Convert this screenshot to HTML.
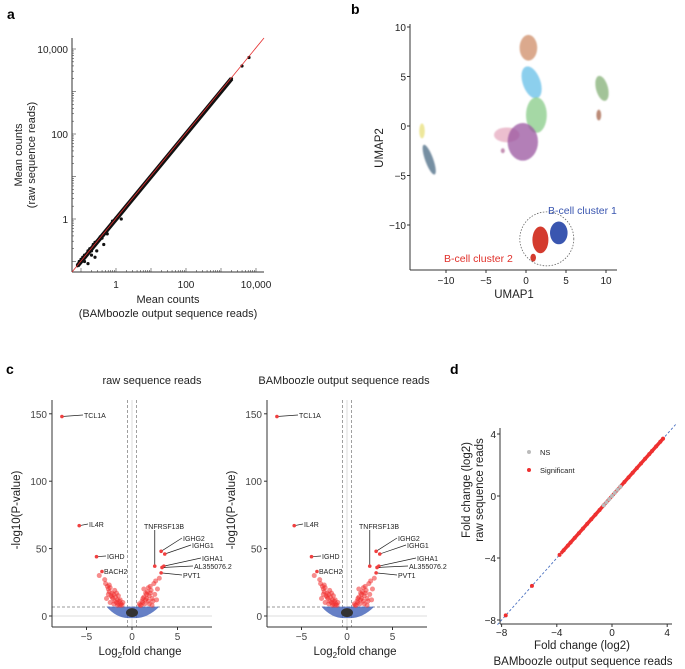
<!DOCTYPE html>
<html><head><meta charset="utf-8"><style>
html,body{margin:0;padding:0;background:#fff}
svg{display:block;font-family:"Liberation Sans",Arial,sans-serif}
</style></head><body>
<svg id="fig" width="685" height="669" viewBox="0 0 685 669" xmlns="http://www.w3.org/2000/svg">
<defs><filter id="blur" x="-50%" y="-50%" width="200%" height="200%"><feGaussianBlur stdDeviation="0.9"/></filter></defs>
<text x="7" y="19" font-size="14" font-weight="bold">a</text>
<text x="351" y="14" font-size="14" font-weight="bold">b</text>
<text x="6" y="374" font-size="14" font-weight="bold">c</text>
<text x="450" y="374" font-size="14" font-weight="bold">d</text>
<g id="pa"></g>
<g id="pb"></g>
<g id="pc1"></g>
<g id="pc2"></g>
<g id="pd"></g>
</svg>
<script>
// ---------- data ----------
const aX=[-1.1,-1.05,-1.0,-0.95,-0.9,-0.85,-0.8,-0.75,-0.7,-0.65,-0.6,-0.5,-0.45,-0.4,-0.3,-0.2,-0.1,0,0.1,0.2,0.35,0.5,0.7,0.9,1.1,1.3,1.5,1.7,1.9,2.1,2.3,2.5,2.7,2.9,3.1,3.2,3.3,3.6,3.8,-0.9,-0.7,-0.55,-0.35,-0.25,0.15,-0.8,-0.6];
const aY=[-1.1,-1.0,-0.95,-0.9,-0.85,-0.85,-0.75,-0.7,-0.75,-0.6,-0.55,-0.5,-0.42,-0.45,-0.3,-0.2,-0.05,0.02,0.1,0.2,0.35,0.5,0.7,0.9,1.1,1.3,1.5,1.7,1.9,2.1,2.3,2.5,2.7,2.9,3.1,3.2,3.3,3.6,3.8,-1.0,-0.85,-0.75,-0.6,-0.35,0.0,-1.05,-0.9];
const aTickVals=[0,2,4];
const aTickLabels=["1","100","10,000"];
const bCX=[0.3,0.7,1.3,-2.4,-0.4,9.5,9.1,-13.0,-12.1,1.8,0.9,4.1,-2.9];
const bCY=[7.9,4.4,1.1,-0.9,-1.6,3.8,1.1,-0.5,-3.4,-11.5,-13.3,-10.8,-2.5];
const bRX=[1.1,1.1,1.3,1.6,1.9,0.75,0.3,0.35,0.5,1.0,0.35,1.1,0.25];
const bRY=[1.3,1.7,1.8,0.75,1.9,1.3,0.55,0.75,1.6,1.35,0.4,1.15,0.25];
const bRot=[0,-20,0,0,0,-15,0,0,-20,0,0,0,0];
const bCol=["#cf8d67","#66bfe8","#88cc88","#e6aac0","#9a55a0","#84b076","#a5634a","#e8e07a","#4a6a84","#d43b2e","#d43b2e","#3a56b0","#b06a9a"];
const bTicks=[-10,-5,0,5,10];
const cGenes=["TCL1A","IL4R","IGHD","BACH2","TNFRSF13B","IGHG2","IGHG1","IGHA1","AL355076.2","PVT1"];
const cGX=[-7.7,-5.8,-3.9,-3.3,2.5,3.2,3.6,3.5,3.3,3.2];
const cGY=[148,67,44,33,37,48,46,37,36,32];
const cLX=[84,89,107,104,144,183,192,202,194,183];
const cLY=[418,527,559,574,529,541,548,561,569,578];
const cRedX=[-3.6,-3.0,-2.9,-2.7,-2.6,-2.5,-2.4,-2.3,-2.2,-2.1,-2.0,-1.9,-1.8,-1.7,-1.6,-1.5,-1.4,-1.3,-1.2,-2.8,-2.4,-2.0,-1.6,-1.3,-2.6,-2.2,-1.9,-1.5,-1.1,-1.0,-2.5,-1.7,1.0,1.2,1.3,1.5,1.6,1.7,1.8,1.9,2.0,2.1,2.2,2.4,2.6,2.8,1.4,1.8,2.2,0.9,1.1,1.6,2.0,2.3,1.9,1.5,1.2,2.5,2.7,3.0,0.8,1.3];
const cRedY=[30,27,24,22,20,18,21,15,17,13,16,11,14,10,12,9,11,8,9,13,10,9,8,12,16,14,19,15,8,10,23,17,8,10,14,12,16,18,21,15,22,19,13,24,26,20,9,11,8,8,11,13,17,11,9,17,13,16,12,28,9,20];
const cTicksX=[-5,0,5];
const cTicksY=[0,50,100,150];
const dX=[-7.7,-5.8,-3.8,-3.5,-3.2,-3.0,-2.7,-2.4,-2.1,-1.8,-1.5,-1.2,-0.9,-0.6,0.6,0.9,1.2,1.5,1.8,2.1,2.4,2.7,2.9,3.2,3.5,3.7];
const dY=[-7.7,-5.8,-3.8,-3.5,-3.2,-3.0,-2.7,-2.4,-2.1,-1.8,-1.5,-1.2,-0.9,-0.6,0.6,0.9,1.2,1.5,1.8,2.1,2.4,2.7,2.9,3.2,3.5,3.7];
const dNSX=[-0.6,-0.4,-0.2,0,0.2,0.4,0.6];
const dTicks=[-8,-4,0,4];

const NS="http://www.w3.org/2000/svg";
function mk(p,t,a){const e=document.createElementNS(NS,t);for(const k in a)e.setAttribute(k,a[k]);p.appendChild(e);return e;}
function txt(p,x,y,s,o){const e=mk(p,'text',Object.assign({x:x,y:y},o||{}));e.textContent=s;return e;}

(function(){
const g=document.getElementById('pa');
const sx=v=>116+v*35, sy=v=>219-v*42.5;
mk(g,'line',{x1:72,y1:38,x2:72,y2:272,stroke:'#333','stroke-width':1});
mk(g,'line',{x1:72,y1:272,x2:264,y2:272,stroke:'#333','stroke-width':1});
for(let d=-1;d<=4;d++)for(let m=1;m<10;m++){const v=d+Math.log10(m);
 const px=sx(v); if(px>=72&&px<=264){mk(g,'line',{x1:px,y1:272,x2:px,y2:m==1?268:270,stroke:'#444','stroke-width':0.6});}
 const py=sy(v); if(py>=38&&py<=272){mk(g,'line',{x1:72,y1:py,x2:m==1?76:74,y2:py,stroke:'#444','stroke-width':0.6});}}
aTickVals.forEach((v,i)=>{
 const t1=txt(g,sx(v),288,aTickLabels[i],{'font-size':10,'text-anchor':'middle',fill:'#222'});
 
 
 const t2=txt(g,68,sy(v)+4,aTickLabels[i],{'font-size':10,'text-anchor':'end',fill:'#222'});
 
 
});
const pl=mk(g,'line',{x1:sx(-1.1),y1:sy(-1.1),x2:sx(3.3),y2:sy(3.3),stroke:'#111','stroke-width':4.5});


aX.forEach((v,i)=>{const c=mk(g,'circle',{cx:sx(v),cy:sy(aY[i]),r:1.6,fill:'#111'});
 
 });
const rl=mk(g,'line',{x1:72,y1:272,x2:264,y2:38,stroke:'#e53030','stroke-width':0.8});


const yt=mk(g,'text',{transform:'translate(22,155) rotate(-90)','font-size':11,'text-anchor':'middle',fill:'#222'});
yt.innerHTML='<tspan x="0" y="0">Mean counts</tspan><tspan x="0" y="13">(raw sequence reads)</tspan>';


const xt=txt(g,168,303,'Mean counts',{'font-size':11,'text-anchor':'middle',fill:'#222'});


const xt2=txt(g,168,317,'(BAMboozle output sequence reads)',{'font-size':11,'text-anchor':'middle',fill:'#222'});


})();

(function(){
const g=document.getElementById('pb');
const sx=v=>526+v*8, sy=v=>126-v*9.9;
mk(g,'line',{x1:410,y1:24,x2:410,y2:270,stroke:'#333','stroke-width':1});
mk(g,'line',{x1:410,y1:270,x2:617,y2:270,stroke:'#333','stroke-width':1});
bTicks.forEach(v=>{
 mk(g,'line',{x1:sx(v),y1:270,x2:sx(v),y2:273,stroke:'#333'});
 const a=txt(g,sx(v),284,v<0?'\u2212'+(-v):String(v),{'font-size':10,'text-anchor':'middle',fill:'#222'});
 
 
 mk(g,'line',{x1:407,y1:sy(v),x2:410,y2:sy(v),stroke:'#333'});
 const b=txt(g,406,sy(v)+4,v<0?'\u2212'+(-v):String(v),{'font-size':10,'text-anchor':'end',fill:'#222'});
 
 
});
bCX.forEach((v,i)=>{const sharp=i>=9&&i<=11;
 const cx=sx(v),cy=sy(bCY[i]);
 const e=mk(g,'ellipse',{cx:cx,cy:cy,rx:bRX[i]*8,ry:bRY[i]*9.9,fill:bCol[i],opacity:sharp?1:0.75,transform:`rotate(${bRot[i]} ${cx} ${cy})`});
 if(!sharp)e.setAttribute('filter','url(#blur)');
 
 });
const c=mk(g,'circle',{cx:sx(2.6),cy:sy(-11.4),r:27,fill:'none',stroke:'#666','stroke-width':0.8,'stroke-dasharray':'1.5,1.5'});


const l1=txt(g,548,214,'B-cell cluster 1',{'font-size':10.5,fill:'#3a56b0'});


const l2=txt(g,444,262,'B-cell cluster 2',{'font-size':10.5,fill:'#e0302a'});


const yt=txt(g,0,0,'UMAP2',{transform:'translate(383,148) rotate(-90)','font-size':11.5,'text-anchor':'middle',fill:'#222'});


const xt=txt(g,514,298,'UMAP1',{'font-size':11.5,'text-anchor':'middle',fill:'#222'});


})();

function volcano(id,ox,title){
const g=document.getElementById(id);
const ax=52+ox, sx=v=>132+ox+v*9.1, sy=v=>616-v*1.348;
mk(g,'line',{x1:ax,y1:sy(0),x2:212+ox,y2:sy(0),stroke:'#ddd','stroke-width':1});
mk(g,'line',{x1:sx(0),y1:400,x2:sx(0),y2:627,stroke:'#ddd','stroke-width':1});
mk(g,'line',{x1:ax,y1:sy(6.7),x2:212+ox,y2:sy(6.7),stroke:'#777','stroke-width':0.7,'stroke-dasharray':'3,2'});
[-0.5,0.5].forEach(v=>mk(g,'line',{x1:sx(v),y1:400,x2:sx(v),y2:627,stroke:'#777','stroke-width':0.7,'stroke-dasharray':'3,2'}));
const blue=mk(g,'path',{d:`M${sx(-2.8)},${sy(7)} L${sx(3)},${sy(7)} Q${sx(1.6)},${sy(-2.5)} ${sx(0)},${sy(-1.5)} Q${sx(-1.6)},${sy(-2.5)} ${sx(-2.8)},${sy(7)} Z`,fill:'#4060b8',opacity:0.8});


const grey=mk(g,'ellipse',{cx:sx(0),cy:sy(2.5),rx:6,ry:4.5,fill:'#333'});


cRedX.forEach((v,i)=>{const c=mk(g,'circle',{cx:sx(v),cy:sy(cRedY[i]),r:2.5,fill:'#f03030',opacity:0.55});
 
 });
cGX.forEach((v,i)=>{
 const px=sx(v),py=sy(cGY[i]),lx=cLX[i]+ox,ly=cLY[i]-3;
 if(i==4) mk(g,'line',{x1:px,y1:py,x2:px,y2:ly+4,stroke:'#222','stroke-width':0.8});
 else mk(g,'line',{x1:px,y1:py,x2:lx-1,y2:ly,stroke:'#222','stroke-width':0.7});
 const c=mk(g,'circle',{cx:px,cy:py,r:1.8,fill:'#f04040'});
 
 
 const t=txt(g,lx,cLY[i],cGenes[i],{'font-size':7,fill:'#222'});
 
 
});
mk(g,'line',{x1:ax,y1:400,x2:ax,y2:627,stroke:'#333','stroke-width':1});
mk(g,'line',{x1:ax,y1:627,x2:212+ox,y2:627,stroke:'#333','stroke-width':1});
cTicksX.forEach(v=>{mk(g,'line',{x1:sx(v),y1:627,x2:sx(v),y2:630,stroke:'#333'});
 const t=txt(g,sx(v),640,v<0?'\u2212'+(-v):String(v),{'font-size':10,'text-anchor':'middle',fill:'#444'});
 
 });
cTicksY.forEach(v=>{mk(g,'line',{x1:ax-3,y1:sy(v),x2:ax,y2:sy(v),stroke:'#333'});
 const t=txt(g,ax-5,sy(v)+4,String(v),{'font-size':10,'text-anchor':'end',fill:'#444'});
 
 });
const yt=txt(g,0,0,'-log10(P-value)',{transform:`translate(${ox+20},510) rotate(-90)`,'font-size':11.5,'text-anchor':'middle',fill:'#222'});


const xt=mk(g,'text',{x:140+ox,y:655,'font-size':11.5,'text-anchor':'middle',fill:'#222'});
xt.innerHTML='Log<tspan font-size="8" dy="3">2</tspan><tspan dy="-3">fold change</tspan>';


const tt=txt(g,title[1]+ox,384,title[0],{'font-size':11,'text-anchor':'middle',fill:'#222'});


}
volcano('pc1',0,['raw sequence reads',152]);
volcano('pc2',215,['BAMboozle output sequence reads',129]);

(function(){
const g=document.getElementById('pd');
const sx=v=>612+v*13.8, sy=v=>496-v*15.5;
mk(g,'line',{x1:sx(-8.3),y1:sy(-8.3),x2:sx(4.7),y2:sy(4.7),stroke:'#4a70c0','stroke-width':0.9,'stroke-dasharray':'2.5,2'});
const band=mk(g,'line',{x1:sx(-3.7),y1:sy(-3.7),x2:sx(3.7),y2:sy(3.7),stroke:'#ee3030','stroke-width':3.5});


dX.forEach((v,i)=>{const c=mk(g,'circle',{cx:sx(v),cy:sy(dY[i]),r:2,fill:'#ee3030'});
 
 });
dNSX.forEach(v=>{const c=mk(g,'circle',{cx:sx(v),cy:sy(v),r:2,fill:'#bbb'});
 
 });
mk(g,'line',{x1:500,y1:428,x2:500,y2:624,stroke:'#333','stroke-width':1});
mk(g,'line',{x1:500,y1:624,x2:672,y2:624,stroke:'#333','stroke-width':1});
dTicks.forEach(v=>{
 mk(g,'line',{x1:sx(v),y1:624,x2:sx(v),y2:627,stroke:'#333'});
 const a=txt(g,sx(v),636,v<0?'\u2212'+(-v):String(v),{'font-size':10,'text-anchor':'middle',fill:'#222'});
 
 
 mk(g,'line',{x1:497,y1:sy(v),x2:500,y2:sy(v),stroke:'#333'});
 const b=txt(g,496,sy(v)+4,v<0?'\u2212'+(-v):String(v),{'font-size':10,'text-anchor':'end',fill:'#222'});
 
 
});
const n1=mk(g,'circle',{cx:529,cy:452,r:2,fill:'#bbb'});


const t1=txt(g,540,455,'NS',{'font-size':7.5,fill:'#222'});


const n2=mk(g,'circle',{cx:529,cy:470,r:2,fill:'#ee3030'});


const t2=txt(g,540,473,'Significant',{'font-size':7.5,fill:'#222'});


const yt=mk(g,'text',{transform:'translate(470,490) rotate(-90)','font-size':11.5,'text-anchor':'middle',fill:'#222'});
yt.innerHTML='<tspan x="0" y="0">Fold change (log2)</tspan><tspan x="0" y="13">raw sequence reads</tspan>';


const xt=txt(g,582,649,'Fold change (log2)',{'font-size':11.5,'text-anchor':'middle',fill:'#222'});


const xt2=txt(g,583,665,'BAMboozle output sequence reads',{'font-size':11.5,'text-anchor':'middle',fill:'#222'});


})();
</script>
</body></html>
